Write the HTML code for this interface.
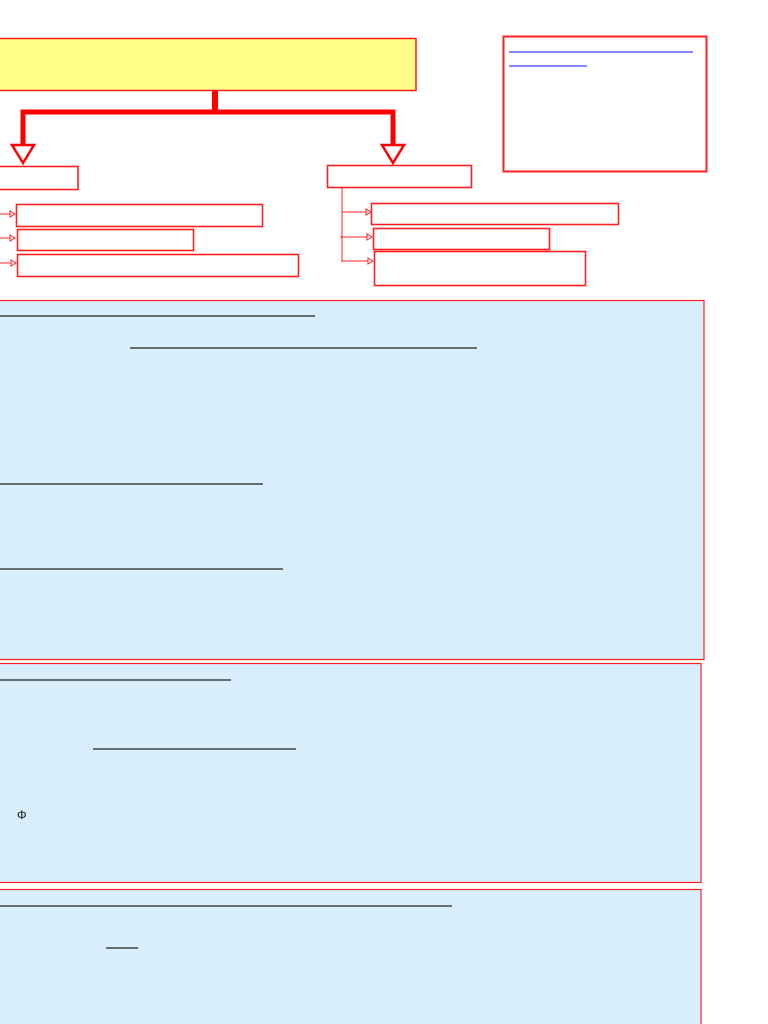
<!DOCTYPE html>
<html><head><meta charset="utf-8"><style>
html,body{margin:0;padding:0;background:#fff;width:768px;height:1024px;overflow:hidden}
svg{display:block}
text{font-family:"Liberation Sans",sans-serif}
</style></head><body>
<svg width="768" height="1024" viewBox="0 0 768 1024" xmlns="http://www.w3.org/2000/svg">
<rect x="-2" y="300.5" width="706" height="359" fill="#d8eefa" stroke="#ff2020" stroke-width="1.2"/>
<rect x="-2" y="663.5" width="703" height="219" fill="#d8eefa" stroke="#ff2020" stroke-width="1.2"/>
<rect x="-2" y="889.5" width="703" height="140" fill="#d8eefa" stroke="#ff2020" stroke-width="1.2"/>
<g stroke="#222" stroke-width="1.3">
<line x1="0" y1="316" x2="315" y2="316"/>
<line x1="130" y1="348" x2="477" y2="348"/>
<line x1="0" y1="484" x2="263" y2="484"/>
<line x1="0" y1="569" x2="283" y2="569"/>
<line x1="0" y1="680" x2="231" y2="680"/>
<line x1="93" y1="749" x2="296" y2="749"/>
<line x1="0" y1="906" x2="452" y2="906"/>
<line x1="106" y1="948" x2="138" y2="948"/>
</g>
<text x="17" y="819" font-size="12" fill="#111">Φ</text>
<rect x="-2" y="38.5" width="418" height="52" fill="#ffff88" stroke="#ff1a1a" stroke-width="1.5"/>
<g stroke="#ff0000" fill="none">
<line x1="215" y1="91" x2="215" y2="112" stroke-width="6"/>
<polyline points="23,146 23,112 393,112 393,146" stroke-width="5"/>
</g>
<polygon points="12,145 34,145 23,163" fill="#fff" stroke="#ff0000" stroke-width="2.5"/>
<polygon points="382,145 404,145 393,163" fill="#fff" stroke="#ff0000" stroke-width="2.5"/>
<g fill="#fff" stroke="#ff2020" stroke-width="1.6">
<rect x="-2" y="166.5" width="80" height="23"/>
<rect x="327.5" y="165.5" width="144" height="22"/>
<rect x="16.5" y="204.5" width="246" height="22"/>
<rect x="17.5" y="229.5" width="176" height="21"/>
<rect x="17.5" y="254.5" width="281" height="22"/>
<rect x="371.5" y="203.5" width="247" height="21"/>
<rect x="373.5" y="228.5" width="176" height="21"/>
<rect x="374.5" y="251.5" width="211" height="34"/>
<rect x="503.5" y="36.5" width="203" height="135" stroke-width="2"/>
</g>
<g stroke="#ff2020" stroke-width="1" fill="#fff">
<line x1="0" y1="214" x2="10" y2="214"/><polygon points="10,211 15,214 10,217"/>
<line x1="0" y1="238" x2="10" y2="238"/><polygon points="10,235 15,238 10,241"/>
<line x1="0" y1="263" x2="11" y2="263"/><polygon points="11,260 16,263 11,266"/>
<polyline points="342,188 342,262" fill="none"/>
<line x1="342" y1="212" x2="366" y2="212"/><polygon points="366,209 371,212 366,215"/>
<line x1="340" y1="237" x2="367" y2="237"/><polygon points="367,234 372,237 367,240"/>
<line x1="342" y1="261" x2="368" y2="261"/><polygon points="368,258 373,261 368,264"/>
</g>
<g stroke="#3344ff" stroke-width="1.3">
<line x1="509" y1="52" x2="693" y2="52"/>
<line x1="509" y1="66" x2="587" y2="66"/>
</g>
</svg>
</body></html>
